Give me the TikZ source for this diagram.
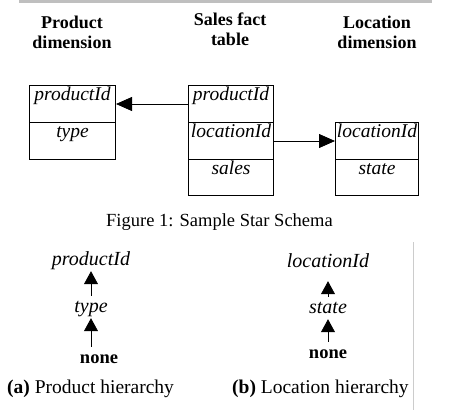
\documentclass[tikz,border=0pt]{standalone}
\usepackage{fontspec}
\setmainfont{Liberation Serif}
\usetikzlibrary{arrows.meta}

\tikzset{
  row/.style={draw,line width=1pt,anchor=north west,inner xsep=1pt,inner ysep=1.5pt,
    text height=13.5pt,text depth=20.5pt,minimum width=#1,
    font=\fontsize{19.5}{22}\itshape},
  head/.style={anchor=north,align=center,inner sep=0pt,font=\fontsize{18}{20}\bfseries},
  lbl/.style={anchor=base,inner sep=2pt,text height=14pt,text depth=4pt,
    font=\fontsize{20}{24}\itshape},
  nonelbl/.style={lbl,font=\fontsize{18.5}{22}\bfseries},
  conn/.style={-{Triangle[length=16pt,width=14pt]},line width=0.8pt},
  hier/.style={-{Triangle[length=13pt,width=14pt]},line width=0.8pt}
}

\begin{document}
\begin{tikzpicture}[x=1pt,y=-1pt]

\newcommand\ROWH{37}

  \useasboundingbox (0,0) rectangle (474,410);

  %% page rules
  \fill[gray!50] (19,0) rectangle (432,3);
  \draw[gray!40,line width=0.8pt] (413,242) -- (413,410);

  %% headings
  \node[head] (hdProd) at (72,15.7) {Product\\dimension};
  \node[head] (hdFact) at (230,12.6) {Sales fact\\table};
  \node[head] (hdLoc)  at (377,15.7) {Location\\dimension};

  %% product dimension
  \node[row=86pt] (prodId)   at (29,85) {productId};
  \node[row=86pt] (prodType) at (29,85+\ROWH) {type};

  %% sales fact table
  \node[row=85pt] (factProd)  at (188,85) {productId};
  \node[row=85pt] (factLoc)   at (188,85+\ROWH) {locationId};
  \node[row=85pt,text depth=19.5pt] (factSales) at (188,85+2*\ROWH) {sales};

  %% location dimension
  \node[row=83pt] (locId)    at (335,85+\ROWH) {locationId};
  \node[row=83pt,text depth=19.5pt] (locState) at (335,85+2*\ROWH) {state};

  %% foreign keys
  \draw[conn] (factProd.west) -- (prodId.east);
  \draw[conn] (factLoc.east) -- (locId.west);

  \node[anchor=base,inner sep=0pt,font=\fontsize{18.5}{22}\selectfont] (figCap)
    at (219.5,226) {Figure 1: Sample Star Schema};

  %% (a) product hierarchy
  \node[lbl] (hpId)   at (91,265) {productId};
  \node[lbl] (hpType) at (91,312) {type};
  \node[nonelbl] (hpNone) at (99,363) {none};
  \draw[hier] (hpType.north) -- (hpId.south);
  \draw[hier] (hpNone.north -| hpType.south) -- (hpType.south);

  %% (b) location hierarchy
  \node[lbl] (hlId)    at (328,267) {locationId};
  \node[lbl] (hlState) at (328,313) {state};
  \node[nonelbl] (hlNone) at (328,358) {none};
  \draw[hier,shorten >=8pt] (hlState.north) -- (hlId.south);
  \draw[hier] (hlNone.north) -- (hlState.south);

  %% sub captions
  \node[anchor=base west,inner sep=0pt,font=\fontsize{19.5}{22}\selectfont] (subA)
    at (7,393) {\textbf{(a)} Product hierarchy};
  \node[anchor=base west,inner sep=0pt,font=\fontsize{19.5}{22}\selectfont] (subB)
    at (232,393) {\textbf{(b)} Location hierarchy};

\end{tikzpicture}
\end{document}
